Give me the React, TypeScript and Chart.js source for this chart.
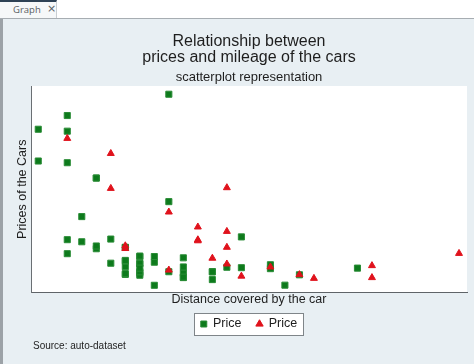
import React, { useEffect, useRef } from "react";
import { Chart, registerables } from "chart.js";

Chart.register(...registerables);

// Domestic cars (green squares): mileage (mpg) and price
const domesticMpg = [22, 17, 22, 20, 15, 18, 26, 20, 16, 19, 14, 14, 21, 29, 16, 22, 22, 24, 19, 30, 18, 16, 17, 28, 21, 12, 12, 14, 22, 14, 15, 18, 14, 20, 21, 19, 19, 18, 19, 24, 16, 28, 34, 25, 26, 18, 18, 18, 19, 19, 19, 24];
const domesticPrice = [4099, 4749, 3799, 4816, 7827, 5788, 4453, 5189, 10372, 4082, 11385, 14500, 15906, 3299, 5705, 4504, 5104, 3667, 3955, 3984, 4010, 5886, 6342, 4389, 4187, 11497, 13594, 13466, 3829, 5379, 6165, 4516, 6303, 3291, 8814, 5172, 4733, 4890, 4181, 4195, 10371, 4647, 4425, 4482, 6486, 4060, 5798, 4934, 5222, 4723, 4424, 4172];

// Foreign cars (red triangles): mileage (mpg) and price
const foreignMpg = [17, 23, 25, 23, 35, 24, 21, 21, 25, 28, 30, 14, 26, 35, 18, 31, 18, 23, 41, 25, 25, 17];
const foreignPrice = [9690, 6295, 9735, 6229, 4589, 5079, 8129, 4296, 5799, 4499, 3995, 12990, 3895, 3798, 5899, 3748, 5719, 7140, 5397, 4697, 6850, 11995];

const seriesLabels = ["Price", "Price"];
const titleLines = ["Relationship between", "prices and mileage of the cars"];
const subtitleText = "scatterplot representation";
const xTitle = "Distance covered by the car";
const yTitle = "Prices of the Cars";
const sourceText = "Source: auto-dataset";

const xRange = [11.5, 41.55];
const yRange = [2815, 16450];

const FONT = "'Liberation Sans', Arial, sans-serif";
const TEXT = "#1e1e1e";
const GREEN = "#0d7a1c";
const GREEN_EDGE = "#2a8c36";
const RED = "#e0121c";
const BG = "#e8eff3";

const boxPlugin = {
  id: "boxPlugin",
  beforeDraw(chart: any) {
    const { ctx, chartArea } = chart;
    ctx.save();
    ctx.fillStyle = "#ffffff";
    ctx.fillRect(chartArea.left, chartArea.top, chartArea.right - chartArea.left, chartArea.bottom - chartArea.top);
    const lg = chart.legend;
    if (lg && lg.legendHitBoxes && lg.legendHitBoxes.length) {
      const hb = lg.legendHitBoxes;
      const l = Math.min(...hb.map((h: any) => h.left)) - 6.5;
      const r = Math.max(...hb.map((h: any) => h.left + h.width)) + 6;
      const t = Math.min(...hb.map((h: any) => h.top)) - 4.75;
      const b = Math.max(...hb.map((h: any) => h.top + h.height)) + 4.75;
      ctx.fillStyle = "#ffffff";
      ctx.fillRect(l, t, r - l, b - t);
      ctx.strokeStyle = "#7f8589";
      ctx.lineWidth = 1;
      ctx.strokeRect(Math.round(l) + 0.5, Math.round(t) + 0.5, Math.round(r - l), Math.round(b - t));
    }
    ctx.restore();
  },
};

export default function App() {
  const canvasRef = useRef<HTMLCanvasElement | null>(null);

  useEffect(() => {
    if (!canvasRef.current) return;
    const domestic = domesticMpg.map((m, i) => ({ x: m, y: domesticPrice[i] }));
    const foreign = foreignMpg.map((m, i) => ({ x: m, y: foreignPrice[i] }));
    const axisFont = { family: FONT, size: 12.5, lineHeight: 1.2 };
    const chart = new Chart(canvasRef.current, {
      type: "scatter",
      data: {
        datasets: [
          {
            label: seriesLabels[0],
            data: domestic,
            pointStyle: "rect",
            pointRadius: 4.3,
            pointHoverRadius: 4.3,
            backgroundColor: GREEN,
            borderColor: GREEN_EDGE,
            borderWidth: 1,
            order: 2,
          },
          {
            label: seriesLabels[1],
            data: foreign,
            pointStyle: "triangle",
            pointRadius: 4,
            pointHoverRadius: 4,
            backgroundColor: RED,
            borderColor: RED,
            borderWidth: 1,
            order: 1,
          },
        ],
      },
      options: {
        animation: false,
        responsive: true,
        maintainAspectRatio: false,
        devicePixelRatio: 1,
        events: [],
        layout: { padding: { left: 0, right: 7, top: 0, bottom: 23.75 }, autoPadding: false },
        scales: {
          x: {
            type: "linear",
            min: xRange[0],
            max: xRange[1],
            ticks: { display: false },
            grid: { display: false, drawTicks: false, tickLength: 0 },
            border: { display: true, color: "#5f6468", width: 1 },
            title: { display: true, text: xTitle, color: TEXT, font: axisFont, padding: { top: 0, bottom: -4.75 } },
          },
          y: {
            type: "linear",
            min: yRange[0],
            max: yRange[1],
            ticks: { display: false },
            grid: { display: false, drawTicks: false, tickLength: 0 },
            border: { display: true, color: "#6a6f73", width: 1 },
            title: { display: true, text: yTitle, color: TEXT, font: axisFont, padding: { top: 15.5, bottom: 0.5 } },
          },
        },
        plugins: {
          legend: {
            display: true,
            position: "bottom",
            fullSize: false,
            align: "center",
            labels: {
              usePointStyle: true,
              boxWidth: 6,
              boxHeight: 6,
              padding: 15,
              color: TEXT,
              font: { family: FONT, size: 12.5 },
              sort: (a: any, b: any) => a.datasetIndex - b.datasetIndex,
            },
          },
          title: {
            display: true,
            text: titleLines,
            fullSize: false,
            color: TEXT,
            font: { family: FONT, size: 16, weight: "normal", lineHeight: 1 },
            padding: { top: 14, bottom: 0 },
          },
          subtitle: {
            display: true,
            text: subtitleText,
            fullSize: false,
            color: TEXT,
            font: { family: FONT, size: 13, weight: "normal", lineHeight: 1 },
            padding: { top: 5, bottom: 2 },
          },
          tooltip: { enabled: false },
        },
      },
      plugins: [boxPlugin],
    } as any);
    return () => chart.destroy();
  }, []);

  return (
    <div style={{ position: "absolute", left: 0, top: 0, width: 474, height: 364, overflow: "hidden", background: BG, fontFamily: FONT }}>
      <div style={{ position: "absolute", left: 0, top: 0, width: 474, height: 18, background: "#ffffff", borderBottom: "1px solid #a7adb2" }} />
      <div style={{ position: "absolute", left: 0, top: 0, width: 56, height: 16, background: "#f6f8f9", borderTop: "2px solid #2e4255", borderRight: "1px solid #c9ced2" }}>
        <span style={{ position: "absolute", left: 13, top: 2, fontSize: 9.5, lineHeight: "12px", color: "#5a5f64", fontFamily: "'Open Sans', 'DejaVu Sans', sans-serif" }}>Graph</span>
        <span style={{ position: "absolute", left: 47, top: 1, fontSize: 11, lineHeight: "12px", color: "#5a5f64", fontFamily: "'DejaVu Sans', sans-serif" }}>×</span>
      </div>
      <div style={{ position: "absolute", left: 0, top: 19, width: 3, height: 345, background: "#9ca2a7" }} />
      <div style={{ position: "absolute", left: 0, top: 20, width: 474, height: 344 }}>
        <canvas ref={canvasRef} />
      </div>
      <div style={{ position: "absolute", left: 33, top: 340, fontSize: 10, lineHeight: "12px", color: TEXT, fontFamily: FONT, whiteSpace: "nowrap" }}>{sourceText}</div>
    </div>
  );
}
